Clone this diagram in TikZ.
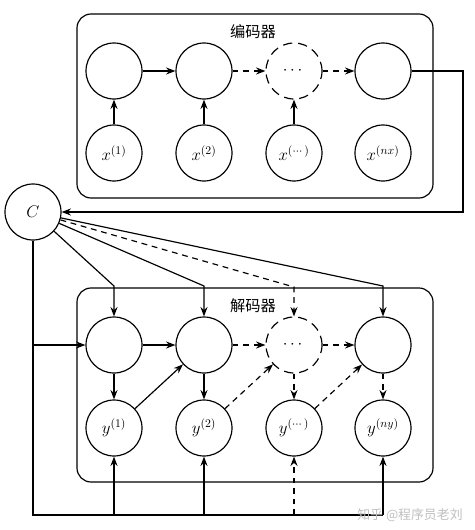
\documentclass[tikz,border=0pt]{standalone}
\usepackage{amsmath}
\usepackage{fontspec}
\newfontfamily\cjk{Noto Sans CJK SC}
\usetikzlibrary{arrows.meta}

\begin{document}
\begin{tikzpicture}[
  x=0.03cm, y=-0.03cm,
  line width=1pt,
  unit/.style={draw, circle, minimum size=1.68cm, inner sep=0pt, font=\Large},
  dunit/.style={unit, dash pattern=on 8pt off 5pt},
  block/.style={draw, rounded corners=12pt, minimum width=10.68cm},
  title/.style={font=\cjk\fontsize{13}{15}\selectfont},
  dsh/.style={dash pattern=on 5pt off 4pt},
  >={Stealth[length=8pt,width=6pt]}
]
\useasboundingbox (0,0) rectangle (474,530);

% encoder
\node[block, minimum height=5.52cm] (enc) at (255,106) {};
\node[title] (enctitle) at (253,32) {编码器};
\node[unit] (h1) at (114,71) {};
\node[unit] (h2) at (204,71) {};
\node[dunit] (h3) at (294,71) {$\cdots$};
\node[unit] (h4) at (383,71) {};
\node[unit] (x1) at (114,153) {$x^{(1)}$};
\node[unit] (x2) at (204,153) {$x^{(2)}$};
\node[unit] (x3) at (294,153) {$x^{(\cdots)}$};
\node[unit] (x4) at (383,153) {$x^{(nx)}$};

\draw[->] (h1) -- (h2);
\draw[->, dsh] (h2) -- (h3);
\draw[->, dsh] (h3) -- (h4);
\draw[->] (x1) -- (h1);
\draw[->] (x2) -- (h2);
\draw[->] (x3) -- (h3);

% context vector
\node[unit] (C) at (33,212) {$C$};
\coordinate (ecorner) at (463,212);
\draw[->] (h4.east) -| (ecorner) -- (C);

% decoder
\node[block, minimum height=5.82cm] (dec) at (255,385) {};
\node[title] (dectitle) at (253,306) {解码器};
\node[unit] (d1) at (114,345) {};
\node[unit] (d2) at (204,345) {};
\node[dunit] (d3) at (294,345) {$\cdots$};
\node[unit] (d4) at (383,345) {};
\node[unit] (y1) at (114,428) {$y^{(1)}$};
\node[unit] (y2) at (204,428) {$y^{(2)}$};
\node[unit] (y3) at (294,428) {$y^{(\cdots)}$};
\node[unit] (y4) at (383,428) {$y^{(ny)}$};

\draw[->] (d1) -- (d2);
\draw[->, dsh] (d2) -- (d3);
\draw[->, dsh] (d3) -- (d4);
\draw[->] (d1) -- (y1);
\draw[->] (d2) -- (y2);
\draw[->, dsh] (d3) -- (y3);
\draw[->, dsh] (d4) -- (y4);
\draw[->] (y1) -- (d2);
\draw[->, dsh] (y2) -- (d3);
\draw[->, dsh] (y3) -- (d4);

% C feeds every decoder step
\draw[->] (C) -- (114,286) -- (d1);
\draw[->] (C) -- (204,286) -- (d2);
\draw[->, dsh] (C) -- (294,287) -- (d3);
\draw[->] (C) -- (383,286) -- (d4);

\coordinate (cmid) at (33,345);
\coordinate (b0) at (33,515);
\coordinate (b1) at (114,515);
\coordinate (b2) at (204,515);
\coordinate (b3) at (294,515);
\coordinate (b4) at (383,515);
\draw (C) -- (b0) -- (b4);
\draw[->] (cmid) -- (d1);
\draw[->] (b1) -- (y1);
\draw[->] (b2) -- (y2);
\draw[->, dsh] (b3) -- (y3);
\draw[->] (b4) -- (y4);

\node[font=\cjk\fontsize{11}{13}\selectfont, text=black!25] (mark) at (410,515) {知乎 @程序员老刘};
\end{tikzpicture}
\end{document}
